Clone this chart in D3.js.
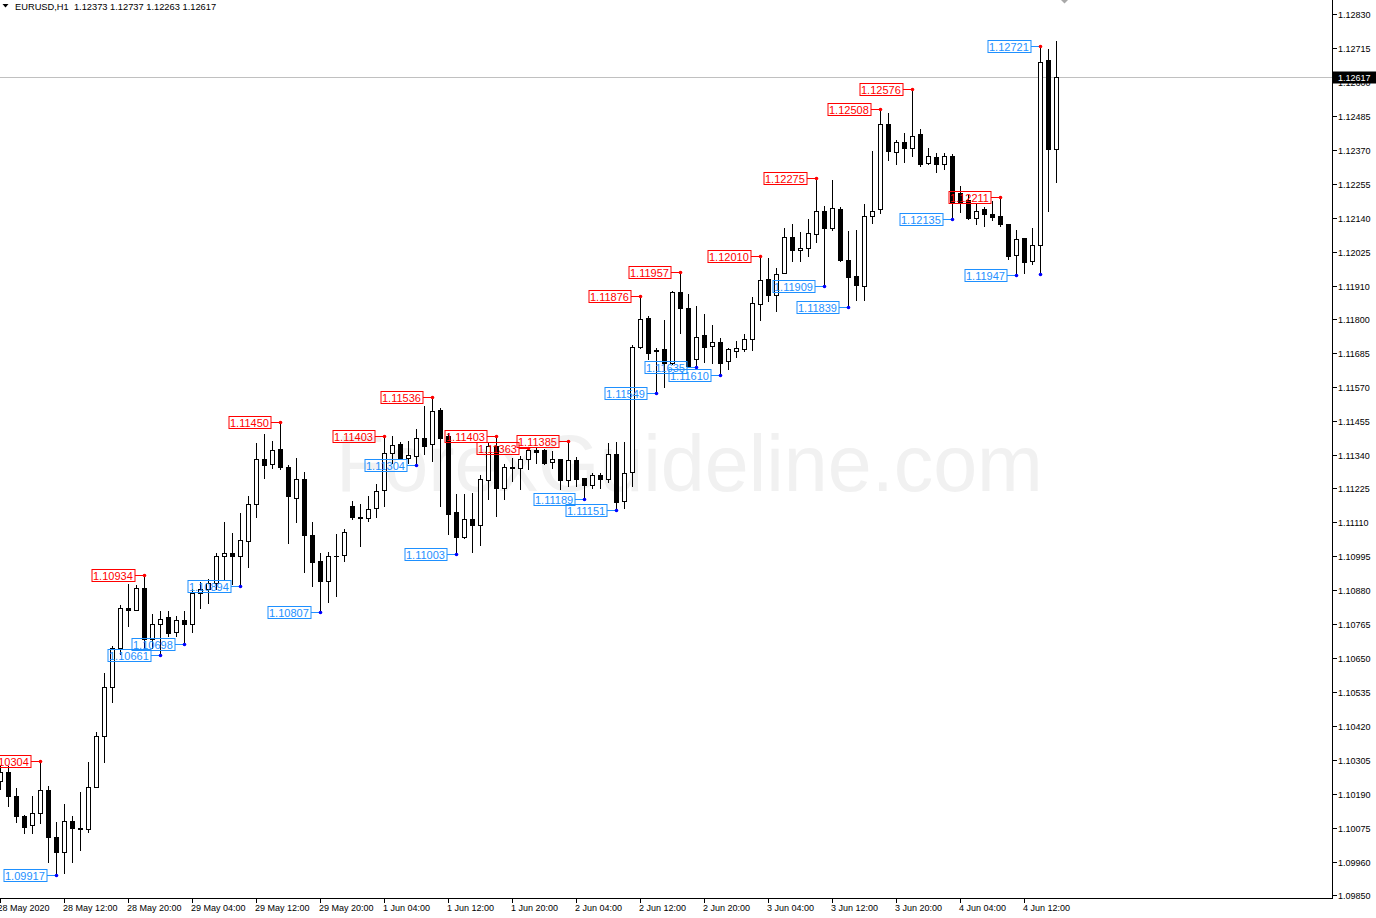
<!DOCTYPE html>
<html><head><meta charset="utf-8">
<script src="https://cdn.jsdelivr.net/npm/d3@7"></script>
<style>html,body{margin:0;padding:0;background:#fff;overflow:hidden}</style>
</head><body>
<svg id="c" width="1376" height="918"></svg>
<script>
const symbol = "EURUSD,H1";
const opens = [1.10236,1.10265,1.10184,1.10116,1.10087,1.10126,1.10205,1.10045,1.09994,1.10099,
1.10076,1.10073,1.10217,1.10388,1.10552,1.10687,1.10822,1.10814,1.10890,1.10715,
1.10768,1.10789,1.10738,1.10780,1.10768,1.10870,1.10884,1.10905,1.10995,1.11008,
1.10995,1.11048,1.11171,1.11326,1.11308,1.11357,1.11298,1.11194,1.11258,1.11069,
1.10979,1.10912,1.10995,1.10999,1.11166,1.11129,1.11124,1.11160,1.11219,1.11344,
1.11374,1.11328,1.11335,1.11397,1.11374,1.11490,1.11402,1.11144,1.11062,1.11123,
1.11102,1.11254,1.11369,1.11226,1.11299,1.11296,1.11326,1.11354,1.11354,1.11315,
1.11324,1.11254,1.11320,1.11259,1.11236,1.11270,1.11256,1.11341,1.11183,1.11282,
1.11705,1.11803,1.11693,1.11696,1.11651,1.11891,1.11834,1.11662,1.11743,1.11707,
1.11722,1.11656,1.11690,1.11698,1.11732,1.11850,1.11932,1.11881,1.11955,1.12076,
1.12031,1.12039,1.12087,1.12165,1.12107,1.12171,1.11999,1.11943,1.11909,1.12148,
1.12169,1.12458,1.12364,1.12398,1.12377,1.12425,1.12326,1.12347,1.12323,1.12351,
1.12225,1.12202,1.12141,1.12169,1.12152,1.12148,1.12118,1.12014,1.12071,1.11994,
1.12048,1.12673,1.12373];
const highs = [1.10286,1.10286,1.10213,1.10120,1.10184,1.10304,1.10219,1.10096,1.10158,1.10116,
1.10200,1.10299,1.10402,1.10600,1.10691,1.10830,1.10901,1.10898,1.10934,1.10800,
1.10811,1.10811,1.10794,1.10811,1.10884,1.10909,1.10918,1.11008,1.11110,1.11074,
1.11141,1.11200,1.11380,1.11408,1.11386,1.11450,1.11303,1.11329,1.11281,1.11110,
1.11008,1.11010,1.11070,1.11087,1.11183,1.11172,1.11200,1.11239,1.11403,1.11402,
1.11382,1.11384,1.11425,1.11504,1.11536,1.11498,1.11412,1.11205,1.11205,1.11209,
1.11270,1.11382,1.11403,1.11307,1.11329,1.11335,1.11363,1.11363,1.11360,1.11352,
1.11326,1.11385,1.11333,1.11262,1.11276,1.11276,1.11378,1.11382,1.11382,1.11709,
1.11876,1.11810,1.11701,1.11794,1.11893,1.11957,1.11884,1.11842,1.11814,1.11777,
1.11733,1.11701,1.11724,1.11746,1.11874,1.12010,1.12005,1.11972,1.12107,1.12121,
1.12092,1.12135,1.12275,1.12180,1.12270,1.12176,1.12095,1.12099,1.12186,1.12366,
1.12508,1.12496,1.12405,1.12428,1.12576,1.12441,1.12377,1.12360,1.12360,1.12358,
1.12247,1.12219,1.12186,1.12178,1.12197,1.12211,1.12120,1.12098,1.12071,1.12107,
1.12721,1.12710,1.12737];
const lows = [1.10208,1.10150,1.10096,1.10059,1.10059,1.10092,1.09963,1.09917,1.09925,1.09963,
1.10003,1.10062,1.10215,1.10301,1.10503,1.10665,1.10760,1.10813,1.10682,1.10687,
1.10661,1.10726,1.10726,1.10698,1.10741,1.10822,1.10839,1.10884,1.10918,1.10901,
1.10894,1.10961,1.11127,1.11261,1.11296,1.11292,1.11042,1.11110,1.10941,1.10895,
1.10807,1.10841,1.10862,1.10980,1.11121,1.11031,1.11115,1.11127,1.11166,1.11312,
1.11324,1.11310,1.11304,1.11341,1.11318,1.11166,1.11070,1.11003,1.11056,1.11010,
1.11033,1.11191,1.11132,1.11188,1.11250,1.11222,1.11292,1.11312,1.11307,1.11296,
1.11222,1.11233,1.11233,1.11189,1.11228,1.11228,1.11247,1.11151,1.11160,1.11233,
1.11701,1.11662,1.11549,1.11568,1.11645,1.11752,1.11638,1.11635,1.11653,1.11648,
1.11610,1.11630,1.11671,1.11690,1.11695,1.11795,1.11859,1.11825,1.11953,1.11994,
1.11994,1.12011,1.12058,1.11909,1.12099,1.11995,1.11839,1.11862,1.11862,1.12124,
1.12158,1.12335,1.12324,1.12329,1.12351,1.12317,1.12324,1.12295,1.12306,1.12135,
1.12160,1.12137,1.12120,1.12112,1.12133,1.12112,1.12002,1.11947,1.11955,1.11983,
1.11951,1.12163,1.12263];
const closes = [1.10267,1.10184,1.10118,1.10081,1.10126,1.10205,1.10045,1.09994,1.10099,1.10075,
1.10074,1.10217,1.10388,1.10552,1.10687,1.10822,1.10814,1.10890,1.10715,1.10768,
1.10785,1.10736,1.10781,1.10768,1.10871,1.10884,1.10905,1.10995,1.11008,1.10995,
1.11052,1.11171,1.11326,1.11306,1.11354,1.11298,1.11198,1.11256,1.11068,1.10977,
1.10912,1.10995,1.10996,1.11079,1.11130,1.11124,1.11157,1.11217,1.11344,1.11372,
1.11329,1.11337,1.11397,1.11369,1.11487,1.11397,1.11138,1.11062,1.11121,1.11102,
1.11256,1.11369,1.11226,1.11299,1.11296,1.11326,1.11354,1.11350,1.11312,1.11324,
1.11254,1.11320,1.11256,1.11236,1.11270,1.11256,1.11341,1.11179,1.11279,1.11705,
1.11799,1.11684,1.11689,1.11651,1.11891,1.11836,1.11639,1.11738,1.11705,1.11722,
1.11651,1.11696,1.11699,1.11732,1.11853,1.11929,1.11881,1.11951,1.12076,1.12033,
1.12039,1.12090,1.12165,1.12107,1.12174,1.11997,1.11941,1.11913,1.12148,1.12165,
1.12458,1.12366,1.12398,1.12377,1.12416,1.12324,1.12351,1.12321,1.12351,1.12191,
1.12191,1.12141,1.12163,1.12152,1.12144,1.12118,1.12013,1.12070,1.11991,1.12047,
1.12668,1.12374,1.12617];

const priceTicks = [1.12830,1.12715,1.12600,1.12485,1.12370,1.12255,1.12140,1.12025,1.11910,1.11800,
1.11685,1.11570,1.11455,1.11340,1.11225,1.11110,1.10995,1.10880,1.10765,1.10650,1.10535,1.10420,
1.10305,1.10190,1.10075,1.09960,1.09850];
const timeTickBars = [0,8,16,24,32,40,48,56,64,72,80,88,96,104,112,120,128];
const timeTickLabels = ["28 May 2020","28 May 12:00","28 May 20:00","29 May 04:00","29 May 12:00","29 May 20:00",
"1 Jun 04:00","1 Jun 12:00","1 Jun 20:00","2 Jun 04:00","2 Jun 12:00","2 Jun 20:00","3 Jun 04:00",
"3 Jun 12:00","3 Jun 20:00","4 Jun 04:00","4 Jun 12:00"];

// swing markers: bar index, value, kind
const markBars = [5,18,35,48,54,62,66,71,80,85,95,102,110,114,125,
                  7,20,23,30,40,52,57,73,77,82,87,90,103,106,119,127,130];
const markVals = [1.10304,1.10934,1.11450,1.11403,1.11536,1.11403,1.11363,1.11385,1.11876,1.11957,1.12010,1.12275,1.12508,1.12576,1.12211,
                  1.09917,1.10661,1.10698,1.10894,1.10807,1.11304,1.11003,1.11189,1.11151,1.11549,1.11635,1.11610,1.11909,1.11839,1.12135,1.11947,1.12721];
const markKinds = ["H","H","H","H","H","H","H","H","H","H","H","H","H","H","H",
                   "L","L","L","L","L","L","L","L","L","L","L","L","L","L","L","L","HB"];
const extraDotBars = [130];
const extraDotVals = [1.11951];
const watermark = "ForexGuideline.com";

const axisX = 1332, axisY = 898;
const svg = d3.select("#c");
const x = d3.scaleLinear().domain([0, 132]).range([0.3, 1056.3]);
const y = d3.scaleLinear().domain([1.09850, 1.12830]).range([895, 14]);
const FONT = "'Liberation Sans', Arial, sans-serif";
const RED = "#ff0000", LBLUE = "#1e90ff", DBLUE = "#0000ff";

// watermark
svg.append("text").attr("x", 336).attr("y", 491)
  .attr("font-family", FONT).attr("font-size", 79).attr("fill", "#f1f1f1")
  .text(watermark);

// current price line
const last = closes.length - 1;
const cy = Math.round(y(closes[last])) + 0.5;
svg.append("line").attr("x1", 0).attr("x2", axisX).attr("y1", cy).attr("y2", cy)
  .attr("stroke", "#c0c0c0").attr("stroke-width", 1);

// candles
const cg = svg.append("g");
d3.range(opens.length).forEach(i => {
  const cx = Math.round(x(i));
  const o = opens[i], c = closes[i];
  cg.append("line").attr("x1", cx + 0.5).attr("x2", cx + 0.5)
    .attr("y1", Math.round(y(highs[i]))).attr("y2", Math.round(y(lows[i])) + 1)
    .attr("stroke", "#000").attr("stroke-width", 1);
  const top = Math.round(y(Math.max(o, c))), bot = Math.round(y(Math.min(o, c)));
  const bull = c >= o;
  if (bot - top < 1) {
    cg.append("line").attr("x1", cx - 2).attr("x2", cx + 3).attr("y1", top + 0.5).attr("y2", top + 0.5)
      .attr("stroke", "#000");
  } else {
    cg.append("rect").attr("x", cx - 1.5).attr("y", top + 0.5).attr("width", 4).attr("height", bot - top)
      .attr("fill", bull ? "#fff" : "#000").attr("stroke", "#000").attr("stroke-width", 1);
  }
});

// swing labels
const lg = svg.append("g");
markBars.forEach((b, k) => {
  const v = markVals[k], kind = markKinds[k];
  const boxCol = kind === "H" ? RED : LBLUE;
  const dotCol = kind === "L" ? DBLUE : RED;
  const cx = Math.round(x(b)) + 0.5;
  const yy = Math.round(y(v)) + 0.5;
  const t = lg.append("text").attr("font-family", FONT).attr("font-size", 11)
    .attr("fill", boxCol).attr("y", yy + 4).text(v.toFixed(5));
  const tw = t.node().getComputedTextLength();
  const bw = Math.round(tw + 3);
  const bx = cx - 10 - bw;
  t.attr("x", bx + 1.5);
  lg.append("rect").attr("x", bx + 0.5).attr("y", yy - 6).attr("width", bw).attr("height", 12)
    .attr("fill", "none").attr("stroke", boxCol).attr("stroke-width", 1);
  lg.append("line").attr("x1", bx + bw + 0.5).attr("x2", cx).attr("y1", yy).attr("y2", yy)
    .attr("stroke", boxCol).attr("stroke-width", 1);
  lg.append("circle").attr("cx", cx).attr("cy", yy).attr("r", 1.8).attr("fill", dotCol);
});
extraDotBars.forEach((b, k) => {
  lg.append("circle").attr("cx", Math.round(x(b)) + 0.5).attr("cy", Math.round(y(extraDotVals[k])) + 0.5)
    .attr("r", 1.8).attr("fill", DBLUE);
});

// axes
const ag = svg.append("g");
ag.append("line").attr("x1", axisX + 0.5).attr("x2", axisX + 0.5).attr("y1", 0).attr("y2", axisY + 1)
  .attr("stroke", "#000");
ag.append("line").attr("x1", 0).attr("x2", axisX + 1).attr("y1", axisY + 0.5).attr("y2", axisY + 0.5)
  .attr("stroke", "#000");
priceTicks.forEach(v => {
  const ty = Math.round(y(v)) + 0.5;
  ag.append("line").attr("x1", axisX + 1).attr("x2", axisX + 5).attr("y1", ty).attr("y2", ty).attr("stroke", "#000");
  ag.append("text").attr("x", axisX + 6).attr("y", ty + 3.2).attr("font-family", FONT)
    .attr("font-size", 9).attr("fill", "#000").text(v.toFixed(5));
});
timeTickBars.forEach((b, k) => {
  const tx = Math.round(x(b)) + 0.5;
  ag.append("line").attr("x1", tx).attr("x2", tx).attr("y1", axisY + 1).attr("y2", axisY + 5).attr("stroke", "#000");
  ag.append("text").attr("x", k === 0 ? tx - 3 : tx - 1.5).attr("y", 911).attr("font-family", FONT)
    .attr("font-size", 9).attr("fill", "#000").text(timeTickLabels[k]);
});

// current price tag
ag.append("rect").attr("x", axisX + 1).attr("y", cy - 6).attr("width", 43).attr("height", 12).attr("fill", "#000");
ag.append("text").attr("x", axisX + 6).attr("y", cy + 3.5).attr("font-family", FONT)
  .attr("font-size", 9).attr("fill", "#fff").text(closes[last].toFixed(5));

// header
svg.append("path").attr("d", "M2.5,4 L8.5,4 L5.5,7.5 Z").attr("fill", "#000");
svg.append("text").attr("x", 15).attr("y", 10).attr("font-family", FONT).attr("font-size", 9.3)
  .attr("fill", "#000").style("white-space", "pre")
  .text(symbol + "  " + [opens[last], highs[last], lows[last], closes[last]].map(v => v.toFixed(5)).join(" "));

// chart shift marker
svg.append("path").attr("d", "M1061,0 L1068,0 L1064.5,3.5 Z").attr("fill", "#a8a8a8");
</script>
</body></html>
